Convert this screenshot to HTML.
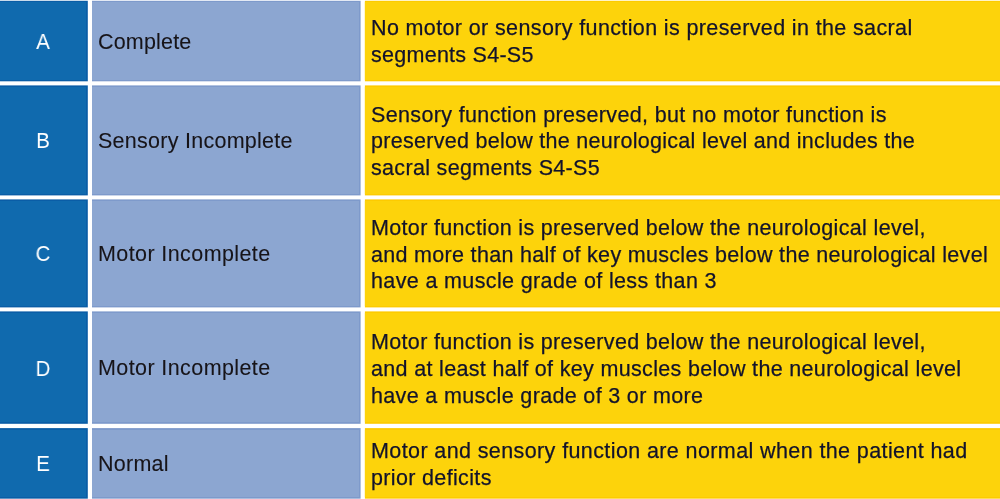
<!DOCTYPE html>
<html><head><meta charset="utf-8"><style>
html,body{margin:0;padding:0;background:#fff;}
body{width:1000px;height:499px;overflow:hidden;position:relative;font-family:"Liberation Sans",sans-serif;}
.b{position:absolute;}
.t{position:absolute;white-space:nowrap;line-height:0;transform-origin:0 0;font-size:21.5px;color:#12132c;will-change:transform;-webkit-text-stroke-width:0.25px;}
.w{color:#fff;-webkit-text-stroke-width:0px;}
</style></head><body>

<svg class="b" style="left:0;top:0" width="1000" height="499" viewBox="0 0 1000 499"><rect x="0" y="0.78" width="87.8" height="80.52" fill="#0A5DA6"/><rect x="0" y="2" width="86" height="78" fill="#106AAE"/><rect x="92.0" y="0.78" width="268.6" height="80.52" fill="#7E9ACB"/><rect x="92.0" y="2" width="267.0" height="78" fill="#8CA6D1"/><rect x="364.9" y="0.78" width="635.1" height="80.52" fill="#FDCB00"/><rect x="364.9" y="2" width="635.1" height="78" fill="#FDD30B"/><rect x="0" y="85.4" width="87.8" height="110.0" fill="#0A5DA6"/><rect x="0" y="87" width="86" height="107" fill="#106AAE"/><rect x="92.0" y="85.4" width="268.6" height="110.0" fill="#7E9ACB"/><rect x="92.0" y="87" width="267.0" height="107" fill="#8CA6D1"/><rect x="364.9" y="85.4" width="635.1" height="110.0" fill="#FDCB00"/><rect x="364.9" y="87" width="635.1" height="107" fill="#FDD30B"/><rect x="0" y="199.4" width="87.8" height="107.99999999999997" fill="#0A5DA6"/><rect x="0" y="201" width="86" height="105" fill="#106AAE"/><rect x="92.0" y="199.4" width="268.6" height="107.99999999999997" fill="#7E9ACB"/><rect x="92.0" y="201" width="267.0" height="105" fill="#8CA6D1"/><rect x="364.9" y="199.4" width="635.1" height="107.99999999999997" fill="#FDCB00"/><rect x="364.9" y="201" width="635.1" height="105" fill="#FDD30B"/><rect x="0" y="311.4" width="87.8" height="112.40000000000003" fill="#0A5DA6"/><rect x="0" y="313" width="86" height="109" fill="#106AAE"/><rect x="92.0" y="311.4" width="268.6" height="112.40000000000003" fill="#7E9ACB"/><rect x="92.0" y="313" width="267.0" height="109" fill="#8CA6D1"/><rect x="364.9" y="311.4" width="635.1" height="112.40000000000003" fill="#FDCB00"/><rect x="364.9" y="313" width="635.1" height="109" fill="#FDD30B"/><rect x="0" y="428.1" width="87.8" height="70.54999999999995" fill="#0A5DA6"/><rect x="0" y="430" width="86" height="67" fill="#106AAE"/><rect x="92.0" y="428.1" width="268.6" height="70.54999999999995" fill="#7E9ACB"/><rect x="92.0" y="430" width="267.0" height="67" fill="#8CA6D1"/><rect x="364.9" y="428.1" width="635.1" height="70.54999999999995" fill="#FDCB00"/><rect x="364.9" y="430" width="635.1" height="67" fill="#FDD30B"/></svg>
<div class="t w" style="left:42.6px;top:41.0998px;font-size:22.8px;transform-origin:50% 0;transform:translateX(-50%) scaleX(0.9)">A</div>
<div class="t" style="left:98px;top:41.75025px;letter-spacing:0.1854px;-webkit-text-stroke-width:0.1px;color:#171418">Complete</div>
<div class="t" style="left:371px;top:27.75025px;letter-spacing:0.3742px">No motor or sensory function is preserved in the sacral</div>
<div class="t" style="left:371px;top:55.15025px;letter-spacing:0.2692px">segments S4-S5</div>
<div class="t w" style="left:42.6px;top:140.0998px;font-size:22.8px;transform-origin:50% 0;transform:translateX(-50%) scaleX(0.9)">B</div>
<div class="t" style="left:98px;top:140.75025px;letter-spacing:0.2647px;-webkit-text-stroke-width:0.1px;color:#171418">Sensory Incomplete</div>
<div class="t" style="left:371px;top:114.75025000000001px;letter-spacing:0.3586px">Sensory function preserved, but no motor function is</div>
<div class="t" style="left:371px;top:141.45025px;letter-spacing:0.2852px">preserved below the neurological level and includes the</div>
<div class="t" style="left:371px;top:168.15025px;letter-spacing:0.32px">sacral segments S4-S5</div>
<div class="t w" style="left:42.6px;top:253.0998px;font-size:22.8px;transform-origin:50% 0;transform:translateX(-50%) scaleX(0.9)">C</div>
<div class="t" style="left:98px;top:253.75025px;letter-spacing:0.4068px;-webkit-text-stroke-width:0.1px;color:#171418">Motor Incomplete</div>
<div class="t" style="left:371px;top:227.85025000000002px;letter-spacing:0.3393px">Motor function is preserved below the neurological level,</div>
<div class="t" style="left:371px;top:254.55025px;letter-spacing:0.3135px">and more than half of key muscles below the neurological level</div>
<div class="t" style="left:371px;top:281.15025px;letter-spacing:0.3664px">have a muscle grade of less than 3</div>
<div class="t w" style="left:42.6px;top:368.0998px;font-size:22.8px;transform-origin:50% 0;transform:translateX(-50%) scaleX(0.9)">D</div>
<div class="t" style="left:98px;top:368.25025px;letter-spacing:0.4068px;-webkit-text-stroke-width:0.1px;color:#171418">Motor Incomplete</div>
<div class="t" style="left:371px;top:341.55025px;letter-spacing:0.3393px">Motor function is preserved below the neurological level,</div>
<div class="t" style="left:371px;top:368.55025px;letter-spacing:0.3333px">and at least half of key muscles below the neurological level</div>
<div class="t" style="left:371px;top:395.65025px;letter-spacing:0.3387px">have a muscle grade of 3 or more</div>
<div class="t w" style="left:42.6px;top:463.0998px;font-size:22.8px;transform-origin:50% 0;transform:translateX(-50%) scaleX(0.9)">E</div>
<div class="t" style="left:98px;top:463.75025px;letter-spacing:0.26px;-webkit-text-stroke-width:0.1px;color:#171418">Normal</div>
<div class="t" style="left:371px;top:450.65025px;letter-spacing:0.3947px">Motor and sensory function are normal when the patient had</div>
<div class="t" style="left:371px;top:478.05025px;letter-spacing:0.3462px">prior deficits</div>
</body></html>
